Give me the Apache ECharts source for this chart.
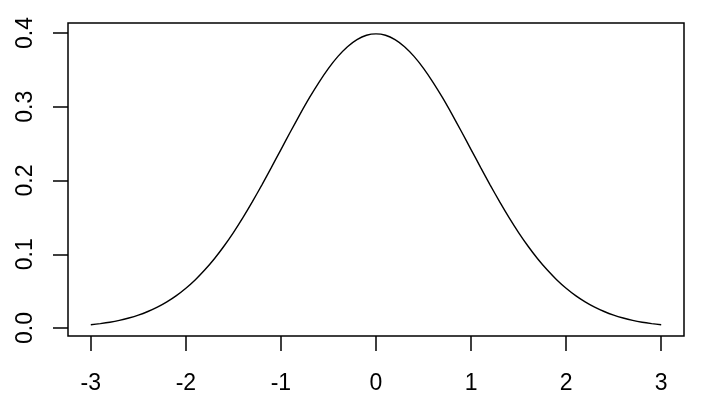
<!DOCTYPE html>
<html>
<head>
<meta charset="utf-8">
<script src="https://cdn.jsdelivr.net/npm/echarts@6/dist/echarts.min.js"></script>
<style>html,body{margin:0;padding:0;background:#fff}#c{width:704px;height:411px}</style>
</head>
<body>
<div id="c"></div>
<script>
var xs = [-3.0,-2.9,-2.8,-2.7,-2.6,-2.5,-2.4,-2.3,-2.2,-2.1,-2.0,-1.9,-1.8,-1.7,-1.6,-1.5,-1.4,-1.3,-1.2,-1.1,-1.0,-0.9,-0.8,-0.7,-0.6,-0.5,-0.4,-0.3,-0.2,-0.1,0.0,0.1,0.2,0.3,0.4,0.5,0.6,0.7,0.8,0.9,1.0,1.1,1.2,1.3,1.4,1.5,1.6,1.7,1.8,1.9,2.0,2.1,2.2,2.3,2.4,2.5,2.6,2.7,2.8,2.9,3.0];
var ys = [0.0044,0.0060,0.0079,0.0104,0.0136,0.0175,0.0224,0.0283,0.0355,0.0440,0.0540,0.0656,0.0790,0.0940,0.1109,0.1295,0.1497,0.1714,0.1942,0.2179,0.2420,0.2661,0.2897,0.3123,0.3332,0.3521,0.3683,0.3814,0.3910,0.3970,0.3989,0.3970,0.3910,0.3814,0.3683,0.3521,0.3332,0.3123,0.2897,0.2661,0.2420,0.2179,0.1942,0.1714,0.1497,0.1295,0.1109,0.0940,0.0790,0.0656,0.0540,0.0440,0.0355,0.0283,0.0224,0.0175,0.0136,0.0104,0.0079,0.0060,0.0044];
var xTicks = [-3,-2,-1,0,1,2,3];
var yTicks = [0.0,0.1,0.2,0.3,0.4];
var yTickLabels = ['0.0','0.1','0.2','0.3','0.4'];

var data = xs.map(function(x,i){return [x, ys[i]];});
var chart = echarts.init(document.getElementById('c'), null, {renderer:'canvas'});
var font = '"Liberation Sans", Arial, Helvetica, sans-serif';
chart.setOption({
  animation:false,
  backgroundColor:'#fff',
  grid:{left:68,right:20,top:23,bottom:75,show:true,borderColor:'#000',borderWidth:1.5,backgroundColor:'transparent'},
  xAxis:{type:'value',min:-3.24,max:3.24,
    axisLine:{show:false,onZero:false},
    splitLine:{show:false},
    axisTick:{show:true,inside:false,length:15,lineStyle:{color:'#000',width:1.5},customValues:xTicks},
    axisLabel:{show:true,customValues:xTicks,margin:36,color:'#000',fontSize:23,fontFamily:font,
      formatter:function(v){return String(v);}}
  },
  yAxis:{type:'value',min:-0.0108,max:0.4136,
    axisLine:{show:false,onZero:false},
    splitLine:{show:false},
    axisTick:{show:true,inside:false,length:15,lineStyle:{color:'#000',width:1.5},customValues:yTicks},
    axisLabel:{show:true,customValues:yTicks,rotate:90,margin:31,color:'#000',fontSize:23,fontFamily:font,
      formatter:function(v){var i=yTicks.findIndex(function(t){return Math.abs(t-v)<1e-9;});return i>=0?yTickLabels[i]:'';}}
  },
  series:[{type:'line',data:data,smooth:0.25,showSymbol:false,lineStyle:{color:'#000',width:1.4},silent:true}]
});
</script>
</body>
</html>
